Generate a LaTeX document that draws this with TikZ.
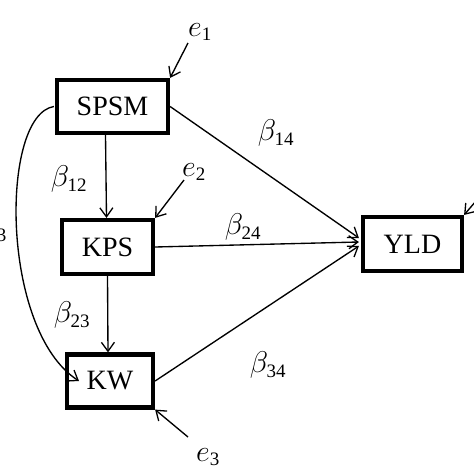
\RequirePackage{fix-cm}
\documentclass[tikz,border=0pt]{standalone}
\usepackage{fontspec}
\setmainfont{Liberation Serif}
\newfontfamily\subfont{Liberation Sans}
\newcommand\mysub[1]{\hbox{\fontsize{19}{22}\selectfont #1}}
\usetikzlibrary{arrows.meta,calc}
\begin{document}
\begin{tikzpicture}[x=1pt,y=-1pt,
  var/.style={draw,line width=4.2pt,rectangle,inner sep=0pt,font=\fontsize{28}{32}\selectfont},
  conn/.style={line width=1.35pt,-{Straight Barb[length=9pt,width=13pt,line width=1.3pt]}},
  coef/.style={font=\fontsize{30}{36}\selectfont,inner sep=0pt}]
\useasboundingbox (0,0) rectangle (474,474);
\node[var,minimum width=111pt,minimum height=53pt] (spsm) at (112.5,106.5) {SPSM};
\node[var,minimum width=91pt,minimum height=54pt] (kps) at (107.5,247) {KPS};
\node[var,minimum width=86pt,minimum height=53pt] (kw) at (110,381) {KW};
\node[var,minimum width=99pt,minimum height=54pt] (yld) at (412.5,244) {YLD};
% error terms
\node[coef] (e1) at (200,32) {$e_{\mysub{1}}$};
\node[coef] (e2) at (194,172) {$e_{\mysub{2}}$};
\node[coef] (e3) at (208,457) {$e_{\mysub{3}}$};
\coordinate (e1s) at (188,43);
\coordinate (e2s) at (184,180);
\coordinate (e3s) at (188,437);
\coordinate (e4s) at (482,194);
\draw[conn] (e1s) -- (spsm.north east);
\draw[conn] (e2s) -- (kps.north east);
\draw[conn] (e3s) -- (kw.south east);
\draw[conn] (e4s) -- (yld.north east);
% paths
\draw[conn] ($(spsm.south)+(-7,0)$) -- ($(kps.north)+(-1,0)$);
\draw[conn] (kps.south) -- ($(kw.north)+(-2,0)$);
\draw[conn] (spsm.east) -- ($(yld.west)+(-2,-6)$);
\draw[conn] (kps.east) -- ($(yld.west)+(-2,-2)$);
\draw[conn] (kw.east) -- ($(yld.west)+(-2,2)$);
\coordinate (kwtip) at (79,381);
\draw[conn] ($(spsm.west)+(-1,0)$) .. controls (0,115) and (0,330) .. (kwtip);
% coefficients
\node[coef] (b14) at (276,133) {$\beta_{\mysub{14}}$};
\node[coef] (b24) at (243,227) {$\beta_{\mysub{24}}$};
\node[coef] (b34) at (268,365) {$\beta_{\mysub{34}}$};
\node[coef] (b12) at (69,179) {$\beta_{\mysub{12}}$};
\node[coef] (b23) at (72,315) {$\beta_{\mysub{23}}$};
\node[coef,anchor=east] (b13) at (7,229) {$\beta_{\mysub{13}}$};
\end{tikzpicture}
\end{document}
